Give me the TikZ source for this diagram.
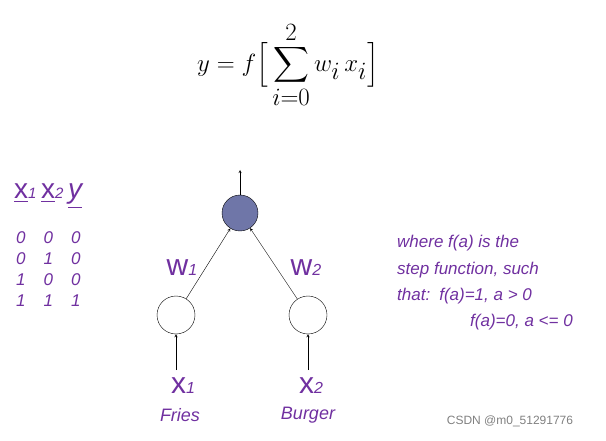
\documentclass[tikz,border=0pt]{standalone}
\usepackage{fontspec}
\setmainfont{Liberation Sans}
\usepackage{amsmath}
\definecolor{pur}{HTML}{7030A0}
\definecolor{nodeblue}{HTML}{6F76A8}
\tikzset{
 neuron/.style={circle,draw,minimum size=36pt,inner sep=0pt},
 lab/.style={text=pur,font=\itshape\fontsize{17}{19}\selectfont,anchor=west,inner sep=0pt},
 big/.style={text=pur,font=\fontsize{30}{32}\selectfont,inner sep=0pt},
 sub/.style={text=pur,font=\itshape\fontsize{18}{20}\selectfont,inner sep=0pt},
 arr/.style={-stealth,thin}
}
\begin{document}
\begin{tikzpicture}[x=1pt,y=-1pt]
\useasboundingbox (0,0) rectangle (606,441);
\node (eq) at (288,65) {\fontsize{34}{38}\selectfont$y=f\Big[\displaystyle\sum_{i=0}^{2} w_i\,x_i\Big]$};
% table
\node[text=pur,font=\fontsize{28}{30}\selectfont,anchor=west,inner sep=0pt] (hd) at (14,196) {\underline{x}{\fontsize{15}{17}\selectfont\itshape 1}\,\underline{x}{\fontsize{15}{17}\selectfont\itshape 2}\,\underline{\itshape y}};
\node[lab] (r1) at (16,238) {0\hspace{18pt}0\hspace{18pt}0};
\node[lab] (r2) at (16,259) {0\hspace{18pt}1\hspace{18pt}0};
\node[lab] (r3) at (16,280) {1\hspace{18pt}0\hspace{18pt}0};
\node[lab] (r4) at (16,301) {1\hspace{18pt}1\hspace{18pt}1};
% neurons
\node[neuron,fill=nodeblue] (out) at (240,213) {};
\node[neuron,minimum size=38pt] (in1) at (176,315) {};
\node[neuron,minimum size=38pt] (in2) at (308,315) {};
\coordinate (top) at (240,170);
\draw[arr] (out) -- (top);
\draw[arr] (in1) -- (out);
\draw[arr] (in2) -- (out);
\node[big] (w1) at (182,268) {w{\fontsize{16}{18}\selectfont\itshape 1}};
\node[big] (w2) at (306,268) {w{\fontsize{16}{18}\selectfont\itshape 2}};
\coordinate (b1) at (176,370);
\coordinate (b2) at (308,370);
\draw[arr] (b1) -- (in1);
\draw[arr] (b2) -- (in2);
\node[big] (x1) at (183,386) {x{\fontsize{16}{18}\selectfont\itshape 1}};
\node[big] (x2) at (311,386) {x{\fontsize{16}{18}\selectfont\itshape 2}};
\node[sub] (fr) at (180,415) {Fries};
\node[sub] (bu) at (308,415) {Burger};
% text
\node[lab] (t1) at (397,243) {where f(a) is the};
\node[lab] (t2) at (397,270) {step function, such};
\node[lab] (t3) at (397,296) {that:\hspace{9pt}f(a)=1, a > 0};
\node[lab] (t4) at (470,322) {f(a)=0, a <= 0};
\node[text=gray,font=\fontsize{12}{14}\selectfont,inner sep=0pt] (wm) at (510,421) {CSDN @m0\_51291776};
\end{tikzpicture}
\end{document}
